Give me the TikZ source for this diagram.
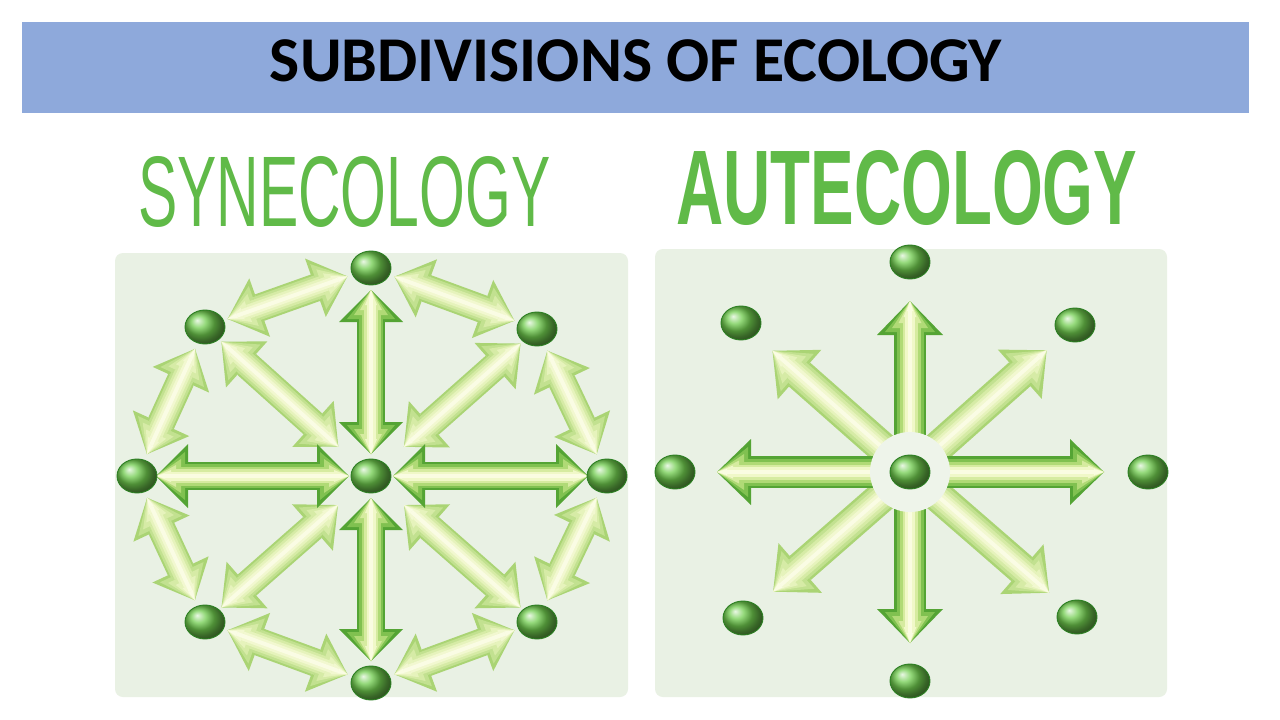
\documentclass[tikz,border=0pt]{standalone}
\usepackage{fontspec}
\usepackage{graphicx}
\setmainfont{Carlito}
\newfontfamily\handfont{Liberation Sans}
\usetikzlibrary{arrows.meta,shapes.geometric}
\definecolor{band}{RGB}{142,169,219}
\definecolor{panel}{RGB}{233,241,228}
\definecolor{ring}{RGB}{238,244,234}
\definecolor{hand}{RGB}{96,186,72}
\definecolor{oA}{RGB}{84,164,52}
\definecolor{oB}{RGB}{128,193,80}
\definecolor{oC}{RGB}{176,218,118}
\definecolor{oD}{RGB}{214,235,160}
\definecolor{oE}{RGB}{240,248,200}
\definecolor{oF}{RGB}{250,252,225}
\definecolor{dA}{RGB}{170,212,116}
\definecolor{dB}{RGB}{194,225,144}
\definecolor{dC}{RGB}{214,235,166}
\definecolor{dD}{RGB}{230,243,188}
\definecolor{dE}{RGB}{242,248,208}
\definecolor{dF}{RGB}{250,252,228}
\definecolor{ballc}{RGB}{112,204,78}
\definecolor{ballrim}{RGB}{44,128,34}
% layer lists: shaft width / colour / tip width / tip length
\def\layO{28pt/oA/64pt/32pt, 24pt/oB/48pt/29pt, 19pt/oC/34pt/25pt, 14pt/oD/22pt/20pt, 9pt/oE/12pt/15pt, 4pt/oF/5pt/9pt}
\def\layD{28pt/dA/62pt/34pt, 24pt/dB/48pt/31pt, 19pt/dC/34pt/27pt, 14pt/dD/22pt/22pt, 9pt/dE/12pt/16pt, 4pt/dF/5pt/10pt}
\def\layOB{32pt/oA/66pt/34pt, 27pt/oB/50pt/31pt, 21pt/oC/36pt/27pt, 15pt/oD/23pt/22pt, 10pt/oE/13pt/16pt, 4pt/oF/6pt/10pt}
\def\layDB{32pt/dA/66pt/36pt, 27pt/dB/50pt/33pt, 21pt/dC/36pt/29pt, 15pt/dD/23pt/23pt, 10pt/dE/13pt/17pt, 4pt/dF/6pt/10pt}
% #1 layer list, #2 from, #3 to, #4 shorten at start, #5 shorten at end
\newcommand\dblarrow[5]{%
  \foreach \w/\c/\W/\L in #1 {%
    \draw[line width=\w, draw=\c,
      {Triangle[width=\W,length=\L,line width=0pt]}-{Triangle[width=\W,length=\L,line width=0pt]},
      shorten <=#4pt, shorten >=#5pt] (#2.center) -- (#3.center);}}
\newcommand\sglarrow[5]{%
  \foreach \w/\c/\W/\L in #1 {%
    \draw[line width=\w, draw=\c,
      -{Triangle[width=\W,length=\L,line width=0pt]},
      shorten <=#4pt, shorten >=#5pt] (#2.center) -- (#3.center);}}
\tikzset{
  sphere/.style={ellipse, minimum width=40pt, minimum height=34pt, inner sep=0pt,
    ball color=ballc, draw=ballrim, line width=0.9pt},
  panelbox/.style={fill=panel, rounded corners=8pt},
  handtext/.style={anchor=base west, inner sep=0pt, text=hand}
}
\begin{document}
\begin{tikzpicture}[x=1pt,y=-1pt]
\useasboundingbox (0,0) rectangle (1280,720);
\fill[white] (0,0) rectangle (1280,720);
% title band
\fill[band] (22,22) rectangle (1249,113);
\node[inner sep=0pt] (title) at (636,61) {\resizebox{732pt}{!}{\bfseries SUBDIVISIONS OF ECOLOGY}};
% handwritten headings
\node[handtext] (syn) at (138,226) {\resizebox{412pt}{70pt}{\handfont SYNECOLOGY}};
\node[handtext] (aut) at (676,224) {\resizebox{461pt}{74pt}{\handfont\bfseries AUTECOLOGY}};
% panels
\fill[panelbox] (115,253) rectangle (628,697);
\fill[panelbox] (655,249) rectangle (1167,697);
% coordinates of the spheres (nodes drawn last)
\coordinate (lt) at (371,268);
\coordinate (lnw) at (205,327);
\coordinate (lne) at (537,329);
\coordinate (lw) at (137,476);
\coordinate (lc) at (371,476);
\coordinate (le) at (607,476);
\coordinate (lsw) at (205,622);
\coordinate (lse) at (537,622);
\coordinate (lb) at (371,683);
\coordinate (rt) at (910,262);
\coordinate (rnw) at (741,323);
\coordinate (rne) at (1075,325);
\coordinate (rw) at (675,472);
\coordinate (rc) at (910,472);
\coordinate (re) at (1148,472);
\coordinate (rsw) at (743,618);
\coordinate (rse) at (1077,617);
\coordinate (rb) at (910,681);
% left panel: perimeter arrows
\dblarrow{\layD}{lt}{lne}{25}{24}
\dblarrow{\layD}{lne}{le}{24}{24}
\dblarrow{\layD}{le}{lse}{24}{24}
\dblarrow{\layD}{lse}{lb}{24}{25}
\dblarrow{\layD}{lb}{lsw}{25}{24}
\dblarrow{\layD}{lsw}{lw}{24}{24}
\dblarrow{\layD}{lw}{lnw}{24}{24}
\dblarrow{\layD}{lnw}{lt}{24}{25}
% left panel: diagonal radial arrows
\dblarrow{\layD}{lc}{lnw}{44}{22}
\dblarrow{\layD}{lc}{lne}{44}{22}
\dblarrow{\layD}{lc}{lsw}{44}{22}
\dblarrow{\layD}{lc}{lse}{44}{22}
% left panel: orthogonal radial arrows
\dblarrow{\layO}{lc}{lt}{22}{22}
\dblarrow{\layO}{lc}{lb}{22}{22}
\dblarrow{\layO}{lc}{lw}{22}{19}
\dblarrow{\layO}{lc}{le}{22}{19}
% right panel: outward arrows
\sglarrow{\layDB}{rc}{rnw}{36}{42}
\sglarrow{\layDB}{rc}{rne}{36}{38}
\sglarrow{\layDB}{rc}{rsw}{36}{40}
\sglarrow{\layDB}{rc}{rse}{36}{37}
\sglarrow{\layOB}{rc}{rt}{36}{39}
\sglarrow{\layOB}{rc}{rb}{36}{38}
\sglarrow{\layOB}{rc}{rw}{36}{42}
\sglarrow{\layOB}{rc}{re}{36}{44}
\fill[ring] (rc) circle (40);
% spheres
\foreach \p in {lt,lnw,lne,lw,lc,le,lsw,lse,lb,rt,rnw,rne,rw,rc,re,rsw,rse,rb}
  \node[sphere] (s-\p) at (\p) {};
\end{tikzpicture}
\end{document}
